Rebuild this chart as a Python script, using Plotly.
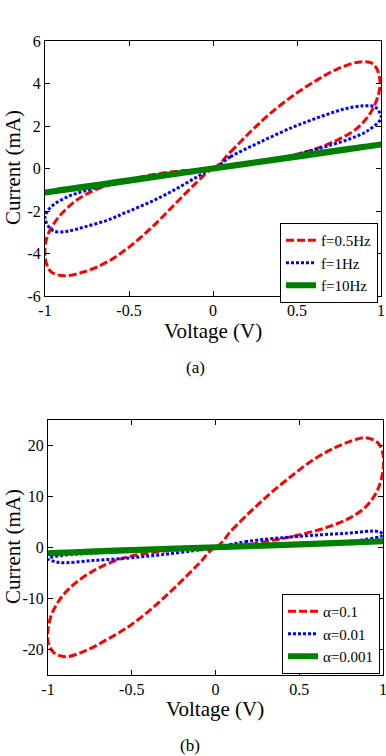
import plotly.graph_objects as go

# ---------- data ----------
# Panel (a): frequency sweep
va_f05 = [0, 0.104, 0.223, 0.341, 0.48, 0.618, 0.737, 0.855, 0.935, 0.974, 0.994, 0.984, 0.935, 0.855, 0.737, 0.618, 0.48, 0.30, 0.15, 0,
          -0.094, -0.233, -0.371, -0.51, -0.628, -0.766, -0.885, -0.964, -0.994, -1.0, -0.984, -0.925, -0.826, -0.727, -0.628, -0.51, -0.371, -0.194, 0]
ia_f05 = [0, 0.78, 1.73, 2.59, 3.45, 4.16, 4.67, 4.99, 4.99, 4.71, 4.08, 3.45, 2.59, 1.88, 1.33, 0.94, 0.63, 0.36, 0.17, 0,
          -0.63, -1.73, -2.82, -3.76, -4.39, -4.86, -5.05, -4.86, -4.39, -3.76, -3.14, -2.35, -1.57, -1.10, -0.78, -0.55, -0.31, -0.11, 0]

va_f1 = [0, 0.104, 0.282, 0.48, 0.638, 0.776, 0.895, 0.964, 0.994, 1.0, 0.915, 0.816, 0.677, 0.539, 0.381, 0.183, 0,
         -0.094, -0.233, -0.371, -0.51, -0.628, -0.766, -0.865, -0.945, -0.984, -1.0, -0.964, -0.865, -0.766, -0.628, -0.43, -0.233, 0]
ia_f1 = [0, 0.55, 1.25, 1.96, 2.43, 2.79, 2.95, 2.90, 2.6, 2.35, 1.75, 1.40, 1.05, 0.75, 0.45, 0.2, 0,
         -0.39, -1.02, -1.57, -2.04, -2.43, -2.75, -2.95, -2.95, -2.67, -2.27, -1.80, -1.33, -1.06, -0.78, -0.47, -0.24, 0]

va_f10 = [-1.0, -0.5, 0, 0.5, 1.0, 0.5, 0, -0.5, -1.0]
ia_f10 = [-1.13, -0.58, 0, 0.58, 1.13, 0.55, 0, -0.55, -1.13]

# Panel (b): alpha sweep
vb_a01 = [0, 0.098, 0.218, 0.338, 0.458, 0.577, 0.697, 0.817, 0.897, 0.967, 1.0, 1.0, 0.967, 0.897, 0.797, 0.677, 0.537, 0.378, 0.178, 0,
          -0.096, -0.235, -0.375, -0.515, -0.635, -0.775, -0.895, -0.965, -0.999, -1.0, -0.975, -0.915, -0.835, -0.735, -0.635, -0.515, -0.395, -0.235, 0]
ib_a01 = [0, 3.4, 7.3, 10.87, 14.1, 17.05, 19.3, 20.95, 21.5, 20.6, 18.3, 15.1, 11.2, 7.94, 5.66, 4.04, 2.73, 1.56, 0.46, 0,
          -3.12, -7.67, -11.9, -15.5, -17.9, -20.3, -21.5, -20.7, -18.7, -16.1, -12.9, -9.6, -7.0, -4.74, -3.12, -1.81, -1.16, -0.51, 0]

vb_a001 = [0, 0.178, 0.477, 0.777, 0.977, 1.0, 0.877, 0.677, 0.477, 0.25, 0,
           -0.135, -0.335, -0.535, -0.735, -0.935, -1.0, -0.935, -0.735, -0.435, -0.2, 0]
ib_a001 = [0, 1.1, 2.09, 2.73, 3.05, 2.4, 1.43, 0.91, 0.65, 0.35, 0,
           -0.7, -1.5, -2.15, -2.6, -2.98, -2.2, -1.68, -1.16, -0.64, -0.3, 0]

vb_a0001 = [-1.0, -0.5, 0, 0.5, 1.0, 0.5, 0, -0.5, -1.0]
ib_a0001 = [-1.17, -0.59, 0, 0.59, 1.17, 0.56, 0, -0.56, -1.17]

x_ticks = [-1, -0.5, 0, 0.5, 1]
x_ticktext = ["-1", "-0.5", "0", "0.5", "1"]
ya_ticks = [-6, -4, -2, 0, 2, 4, 6]
ya_ticktext = ["-6", "-4", "-2", "0", "2", "4", "6"]
yb_ticks = [-20, -10, 0, 10, 20]
yb_ticktext = ["-20", "-10", "0", "10", "20"]

names_a = ["f=0.5Hz", "f=1Hz", "f=10Hz"]
names_b = ["\u03b1=0.1", "\u03b1=0.01", "\u03b1=0.001"]

# ---------- styling ----------
FONT = "Liberation Serif, Times New Roman, serif"
RED, BLUE, GREEN = "#ff0000", "#0000ff", "#008000"
styles = [dict(color=RED, width=3, dash="8px,3px"),
          dict(color=BLUE, width=3, dash="3px,2px"),
          dict(color=GREEN, width=6)]

W, H = 386, 756
fig = go.Figure()

series_a = [(va_f05, ia_f05), (va_f1, ia_f1), (va_f10, ia_f10)]
series_b = [(vb_a01, ib_a01), (vb_a001, ib_a001), (vb_a0001, ib_a0001)]

for (x, y), nm, st in zip(series_a, names_a, styles):
    fig.add_trace(go.Scatter(x=x, y=y, mode="lines", name=nm, line=dict(shape="spline", smoothing=1, **st),
                             xaxis="x", yaxis="y", legend="legend"))
for (x, y), nm, st in zip(series_b, names_b, styles):
    fig.add_trace(go.Scatter(x=x, y=y, mode="lines", name=nm, line=dict(shape="spline", smoothing=1, **st),
                             xaxis="x2", yaxis="y2", legend="legend2"))

axis_common = dict(showline=True, linecolor="black", linewidth=1, mirror="ticks", ticks="inside", ticklen=5,
                   tickcolor="black", showgrid=False, zeroline=False, automargin=False,
                   ticklabeloverflow="allow",
                   tickfont=dict(family=FONT, size=16, color="black"))

def px_x(p):
    return p / W

def px_y(p):
    return 1 - p / H

legend_common = dict(xanchor="right", yanchor="top", bgcolor="white", bordercolor="black", borderwidth=1,
                     font=dict(family=FONT, size=15, color="black"), itemwidth=30, tracegroupgap=0)

fig.update_layout(
    width=W, height=H, margin=dict(l=0, r=0, t=0, b=0, autoexpand=False),
    paper_bgcolor="white", plot_bgcolor="white",
    font=dict(family=FONT, color="black"),
    xaxis=dict(domain=[px_x(45), px_x(381)], range=[-1, 1], anchor="y",
               tickvals=x_ticks, ticktext=x_ticktext, **axis_common),
    yaxis=dict(domain=[px_y(296), px_y(41)], range=[-6, 6], anchor="x",
               tickvals=ya_ticks, ticktext=ya_ticktext, **axis_common),
    xaxis2=dict(domain=[px_x(48), px_x(383)], range=[-1, 1], anchor="y2",
                tickvals=x_ticks, ticktext=x_ticktext, **axis_common),
    yaxis2=dict(domain=[px_y(674.5), px_y(420)], range=[-25, 25], anchor="x2",
                tickvals=yb_ticks, ticktext=yb_ticktext, **axis_common),
    legend=dict(x=px_x(378), y=px_y(223), **legend_common),
    legend2=dict(x=px_x(380), y=px_y(594), **legend_common),
    showlegend=True,
)

ann = []
def add_text(text, xp, yp, size, angle=0):
    ann.append(dict(text=text, x=px_x(xp), y=px_y(yp), xref="paper", yref="paper",
                    showarrow=False, textangle=angle, xanchor="center", yanchor="middle",
                    font=dict(family=FONT, size=size, color="black")))

add_text("Current (mA)", 13, 168, 21, -90)
add_text("Voltage (V)", 213, 331, 21)
add_text("(a)", 195, 367, 17)
add_text("Current (mA)", 13, 547, 21, -90)
add_text("Voltage (V)", 215, 709, 21)
add_text("(b)", 190, 745, 17)
fig.update_layout(annotations=ann)

fig.write_html("out.html", config={"displayModeBar": False},
               post_script="document.body.style.margin='0';document.body.style.overflow='hidden';")
